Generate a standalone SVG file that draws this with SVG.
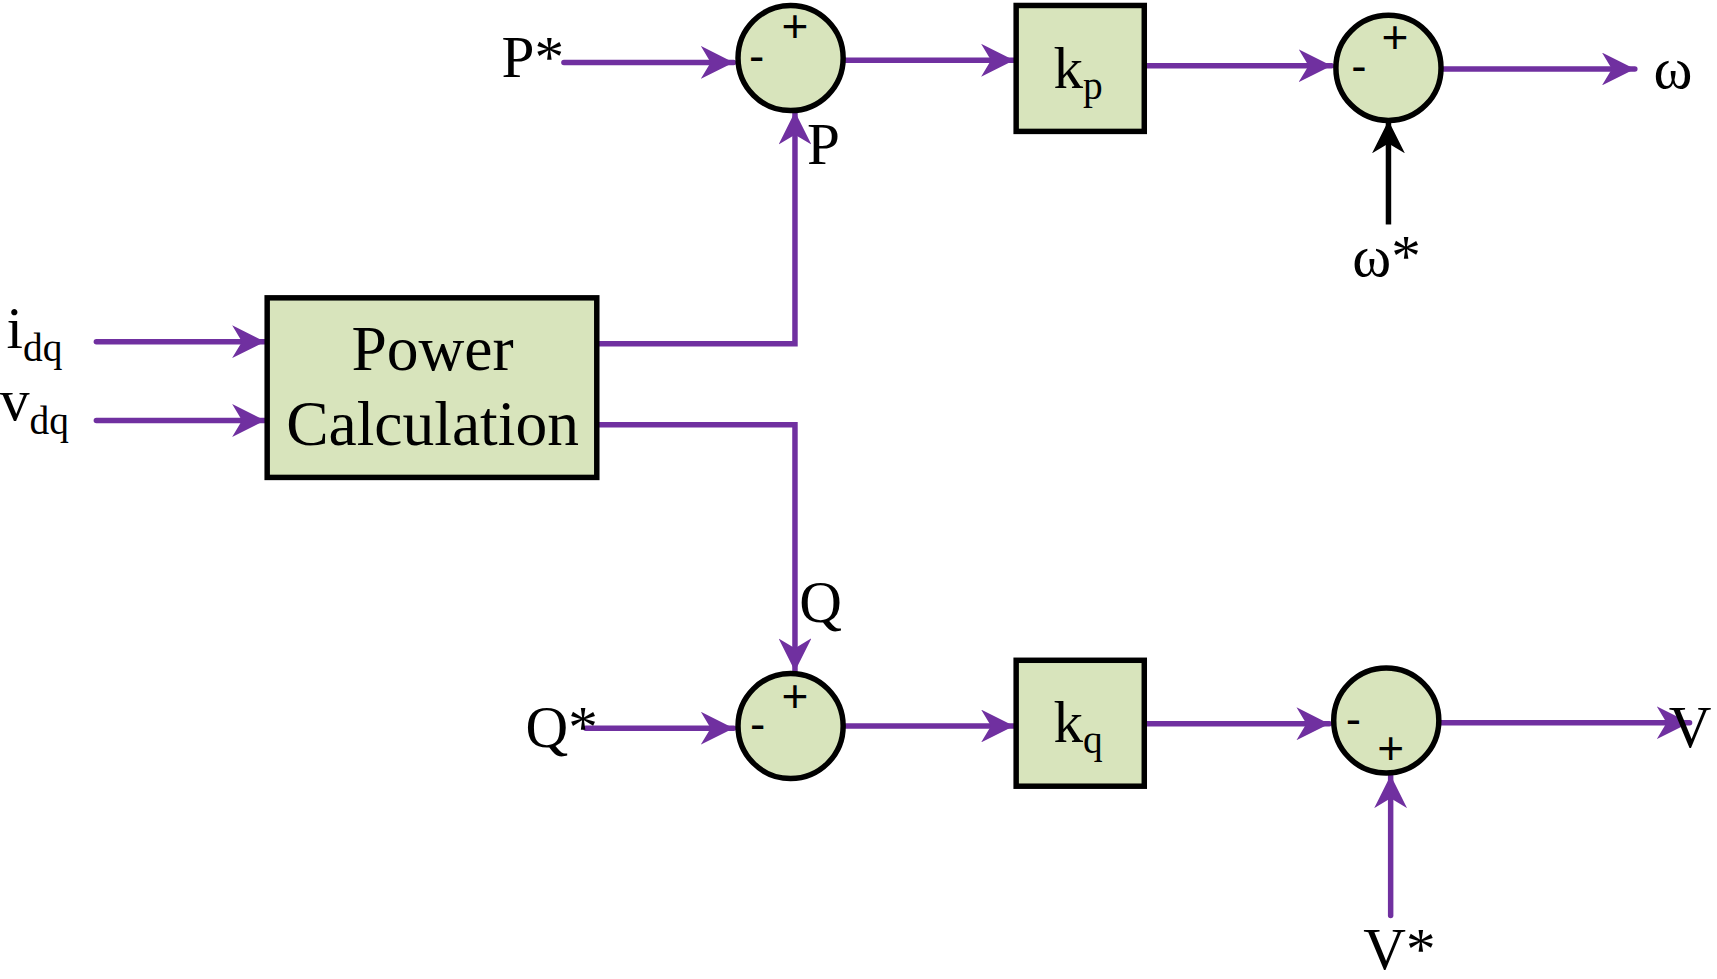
<svg xmlns="http://www.w3.org/2000/svg" width="1717" height="979" viewBox="0 0 1717 979">
<defs>
<marker id="ap" viewBox="0 0 10 10" refX="10" refY="5" markerWidth="6" markerHeight="6" orient="auto" markerUnits="strokeWidth"><path d="M0,0L10,5L0,10L3,5z" fill="#7030A0"/></marker>
<marker id="ab" viewBox="0 0 10 10" refX="10" refY="5" markerWidth="6" markerHeight="6" orient="auto" markerUnits="strokeWidth"><path d="M0,0L10,5L0,10L3,5z" fill="#000"/></marker>
<style>
.b{fill:#D8E4BC;stroke:#000;stroke-width:5}
.w{fill:none;stroke:#7030A0;stroke-width:5;stroke-linecap:round}
.t{font-family:"Liberation Serif",serif;font-size:54px;fill:#000}
.p{font-size:58px}
.s{font-family:"Liberation Sans",sans-serif;font-size:42px;fill:#000}
.sub{font-size:36px}
</style>
</defs>
<rect width="1717" height="979" fill="#fff"/>
<g transform="scale(1.095)">
<g id="connectors">
<path class="w" d="M515,57H670" marker-end="url(#ap)"/>
<path class="w" d="M772,55H926" marker-end="url(#ap)"/>
<path class="w" d="M1045,60H1216" marker-end="url(#ap)"/>
<path class="w" d="M1318,63H1493" marker-end="url(#ap)"/>
<path d="M1268,205V110" stroke="#000" stroke-width="5" fill="none" marker-end="url(#ab)"/>
<path class="w" d="M545,314H726V102" marker-end="url(#ap)"/>
<path class="w" d="M545,388H726V613" marker-end="url(#ap)"/>
<path class="w" d="M535,665H670" marker-end="url(#ap)"/>
<path class="w" d="M772,663H926" marker-end="url(#ap)"/>
<path class="w" d="M1045,661H1214" marker-end="url(#ap)"/>
<path class="w" d="M1316,660H1543" marker-end="url(#ap)"/>
<path class="w" d="M1270,836V708" marker-end="url(#ap)"/>
<path class="w" d="M88,312H242" marker-end="url(#ap)"/>
<path class="w" d="M88,384H242" marker-end="url(#ap)"/>
</g>
<g id="power"><rect class="b" x="244" y="272" width="301" height="164"/>
<text class="t p" x="395" y="338" text-anchor="middle">Power</text>
<text class="t p" x="395" y="406" text-anchor="middle">Calculation</text></g>
<g id="kp"><rect class="b" x="928" y="5" width="117" height="115"/><text class="t" x="962" y="80">k<tspan class="sub" dy="10">p</tspan></text></g>
<g id="kq"><rect class="b" x="928" y="603" width="117" height="115"/><text class="t" x="962" y="678">k<tspan class="sub" dy="10">q</tspan></text></g>
<g id="sum1"><circle class="b" cx="722" cy="53" r="48"/><text class="s" x="726" y="38" text-anchor="middle">+</text><text class="s" x="691" y="66" text-anchor="middle">-</text></g>
<g id="sum2"><circle class="b" cx="1268" cy="62" r="48"/><text class="s" x="1274" y="48" text-anchor="middle">+</text><text class="s" x="1241" y="75" text-anchor="middle">-</text></g>
<g id="sum3"><circle class="b" cx="722" cy="663" r="48"/><text class="s" x="726" y="650" text-anchor="middle">+</text><text class="s" x="692" y="676" text-anchor="middle">-</text></g>
<g id="sum4"><circle class="b" cx="1266" cy="658" r="48"/><text class="s" x="1270" y="698" text-anchor="middle">+</text><text class="s" x="1236" y="671" text-anchor="middle">-</text></g>
<g id="labels">
<text class="t" x="458" y="70">P*</text>
<text class="t" x="737" y="150">P</text>
<text class="t" x="730" y="568">Q</text>
<text class="t" x="480" y="682">Q*</text>
<text class="t" x="1510" y="80">ω</text>
<text class="t" x="1235" y="252">ω*</text>
<text class="t" x="1524" y="682">V</text>
<text class="t" x="1245" y="885">V*</text>
<text class="t" x="6" y="318">i<tspan class="sub" dy="12">dq</tspan></text>
<text class="t" x="0" y="384">v<tspan class="sub" dy="12">dq</tspan></text>
</g>
</g>
</svg>
